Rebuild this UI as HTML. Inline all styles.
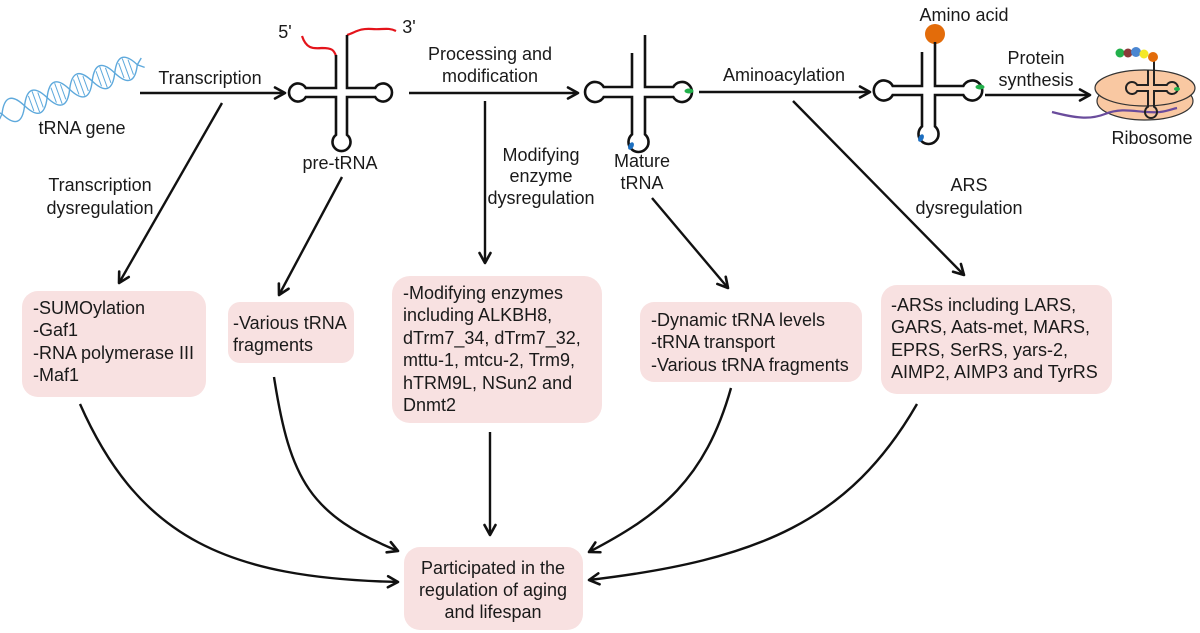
<!DOCTYPE html>
<html><head><meta charset="utf-8"><style>
html,body{margin:0;padding:0;background:#fff;}
svg{display:block;}
text{font-family:"Liberation Sans",Arial,sans-serif;font-size:18px;fill:#1a1a1a;}
.c{text-anchor:middle;}
</style></head><body>
<svg width="1200" height="633" viewBox="0 0 1200 633" xmlns="http://www.w3.org/2000/svg">
<defs>
<marker id="ah" markerWidth="14" markerHeight="14" refX="12" refY="7" orient="auto" markerUnits="userSpaceOnUse">
<path d="M2,1.5 L12,7 L2,12.5" fill="none" stroke="#111" stroke-width="2.6" stroke-linecap="round" stroke-linejoin="round"/>
</marker>
</defs>

<!-- DNA -->
<g transform="translate(2,114) rotate(-20)" fill="none" stroke="#5ea9dc" stroke-width="1.4">
<path d="M-4 -4 L0 0 Q12 -24 24 0 T48 0 T72 0 T96 0 T120 0 T144 0 L150 -5"/>
<path d="M-4 4 L0 0 Q12 24 24 0 T48 0 T72 0 T96 0 T120 0 T144 0 L150 5"/>
<g stroke-width="1">
<path d="M31 -8V8M36 -11V11M41 -8V8M55 -8V8M60 -11V11M65 -8V8M79 -8V8M84 -11V11M89 -8V8M103 -8V8M108 -11V11M113 -8V8M127 -8V8M132 -11V11M137 -8V8"/>
</g>
</g>
<text x="82" y="134" class="c">tRNA gene</text>

<!-- pre-tRNA -->
<path d="M302 36 C306 48 312 49 322 48 C332 48 334 50 336 56" fill="none" stroke="#e4141b" stroke-width="2.2"/>
<path d="M347 35 C356 32 360 28 372 29 C382 30 388 27 396 31" fill="none" stroke="#e4141b" stroke-width="2.2"/>
<path d="M336 55 V88 H305.8 A9 9 0 1 0 305.8 97 H336 V134.9 A9 9 0 1 0 347 134.9 V97 H375.2 A9 9 0 1 0 375.2 88 H347 V35" fill="none" stroke="#111" stroke-width="2.6"/>
<text x="285" y="38" class="c">5'</text>
<text x="409" y="33" class="c">3'</text>
<text x="340" y="169" class="c">pre-tRNA</text>

<!-- mature tRNA -->
<path d="M632 53 V87 H603.7 A10 10 0 1 0 603.7 97 H632 V134.4 A10 10 0 1 0 645 134.4 V97 H673.3 A10 10 0 1 0 673.3 87 H645 V35" fill="none" stroke="#111" stroke-width="2.6"/>
<ellipse cx="689" cy="91" rx="4.5" ry="2.5" fill="#22b04b"/>
<ellipse cx="631" cy="146" rx="2.5" ry="4" fill="#1d6fc0" transform="rotate(30 631 146)"/>
<text x="642" y="167" class="c">Mature</text>
<text x="642" y="189" class="c">tRNA</text>

<!-- aminoacyl tRNA -->
<circle cx="935" cy="34" r="10" fill="#e36c0a"/>
<path d="M922 52 V86 H892.7 A10 10 0 1 0 892.7 95 H922 V126.4 A10 10 0 1 0 935 126.4 V95 H963.3 A10 10 0 1 0 963.3 86 H935 V42" fill="none" stroke="#111" stroke-width="2.6"/>
<ellipse cx="980" cy="87" rx="4.5" ry="2.5" fill="#22b04b"/>
<ellipse cx="921" cy="138" rx="2.5" ry="4" fill="#1d6fc0" transform="rotate(30 921 138)"/>
<text x="964" y="21" class="c">Amino acid</text>

<!-- Ribosome -->
<ellipse cx="1145" cy="101" rx="48" ry="19" fill="#f9c8a2" stroke="#333" stroke-width="1.2"/>
<ellipse cx="1145" cy="88" rx="50" ry="18" fill="#f9c8a2" stroke="#333" stroke-width="1.2"/>
<path d="M1052 112 C1075 118 1090 120 1105 114 C1125 106 1140 114 1160 112 C1168 111 1172 109 1177 108" fill="none" stroke="#6a4c9c" stroke-width="2.2"/>
<path d="M1148 70 V85 H1137.2 A6 6 0 1 0 1137.2 91 H1148 V106.8 A6 6 0 1 0 1154 106.8 V91 H1166.8 A6 6 0 1 0 1166.8 85 H1154 V60" fill="none" stroke="#222" stroke-width="2"/>
<ellipse cx="1177" cy="89" rx="3" ry="2" fill="#22b04b"/>
<circle cx="1120" cy="53" r="4.5" fill="#22b04b"/>
<circle cx="1128" cy="53" r="4.5" fill="#8b3a3a"/>
<circle cx="1136" cy="52" r="5" fill="#4a86d1"/>
<circle cx="1144" cy="54" r="4.5" fill="#f4e827"/>
<circle cx="1153" cy="57" r="5" fill="#e36c0a"/>
<text x="1152" y="144" class="c">Ribosome</text>

<!-- top arrows -->
<g stroke="#111" stroke-width="2.6" fill="none" marker-end="url(#ah)">
<line x1="140" y1="93" x2="285" y2="93"/>
<line x1="409" y1="93" x2="578" y2="93"/>
<line x1="699" y1="92" x2="870" y2="92"/>
<line x1="985" y1="95" x2="1090" y2="95"/>
</g>
<text x="210" y="84" class="c">Transcription</text>
<text x="490" y="60" class="c">Processing and</text>
<text x="490" y="82" class="c">modification</text>
<text x="784" y="81" class="c">Aminoacylation</text>
<text x="1036" y="64" class="c">Protein</text>
<text x="1036" y="86" class="c">synthesis</text>

<!-- downward arrows -->
<g stroke="#111" stroke-width="2.4" fill="none" marker-end="url(#ah)">
<line x1="222" y1="103" x2="119" y2="283"/>
<line x1="342" y1="177" x2="279" y2="295"/>
<line x1="485" y1="101" x2="485" y2="263"/>
<line x1="652" y1="198" x2="728" y2="288"/>
<line x1="793" y1="101" x2="964" y2="275"/>
</g>
<text x="100" y="191" class="c">Transcription</text>
<text x="100" y="214" class="c">dysregulation</text>
<text x="541" y="161" class="c">Modifying</text>
<text x="541" y="182" class="c">enzyme</text>
<text x="541" y="204" class="c">dysregulation</text>
<text x="969" y="191" class="c">ARS</text>
<text x="969" y="214" class="c">dysregulation</text>

<!-- boxes -->
<g fill="#f8e1e1">
<rect x="22" y="291" width="184" height="106" rx="16"/>
<rect x="228" y="302" width="126" height="61" rx="12"/>
<rect x="392" y="276" width="210" height="147" rx="18"/>
<rect x="640" y="302" width="222" height="80" rx="14"/>
<rect x="881" y="285" width="231" height="109" rx="16"/>
<rect x="404" y="547" width="179" height="83" rx="16"/>
</g>
<text x="33" y="314">-SUMOylation</text>
<text x="33" y="336">-Gaf1</text>
<text x="33" y="359">-RNA polymerase III</text>
<text x="33" y="381">-Maf1</text>
<text x="233" y="329">-Various tRNA</text>
<text x="233" y="351">fragments</text>
<text x="403" y="299">-Modifying enzymes</text>
<text x="403" y="321">including ALKBH8,</text>
<text x="403" y="344">dTrm7_34, dTrm7_32,</text>
<text x="403" y="366">mttu-1, mtcu-2, Trm9,</text>
<text x="403" y="389">hTRM9L, NSun2 and</text>
<text x="403" y="411">Dnmt2</text>
<text x="651" y="326">-Dynamic tRNA levels</text>
<text x="651" y="348">-tRNA transport</text>
<text x="651" y="371">-Various tRNA fragments</text>
<text x="891" y="311">-ARSs including LARS,</text>
<text x="891" y="333">GARS, Aats-met, MARS,</text>
<text x="891" y="356">EPRS, SerRS, yars-2,</text>
<text x="891" y="378">AIMP2, AIMP3 and TyrRS</text>
<text x="493" y="574" class="c">Participated in the</text>
<text x="493" y="596" class="c">regulation of aging</text>
<text x="493" y="618" class="c">and lifespan</text>

<!-- converging arrows -->
<g stroke="#111" stroke-width="2.4" fill="none" marker-end="url(#ah)">
<path d="M80 404 C140 540 230 578 398 582"/>
<path d="M274 377 C290 480 310 515 398 551"/>
<line x1="490" y1="432" x2="490" y2="535"/>
<path d="M731 388 C705 480 660 515 589 552"/>
<path d="M917 404 C850 520 760 560 589 580"/>
</g>
</svg>
</body></html>
